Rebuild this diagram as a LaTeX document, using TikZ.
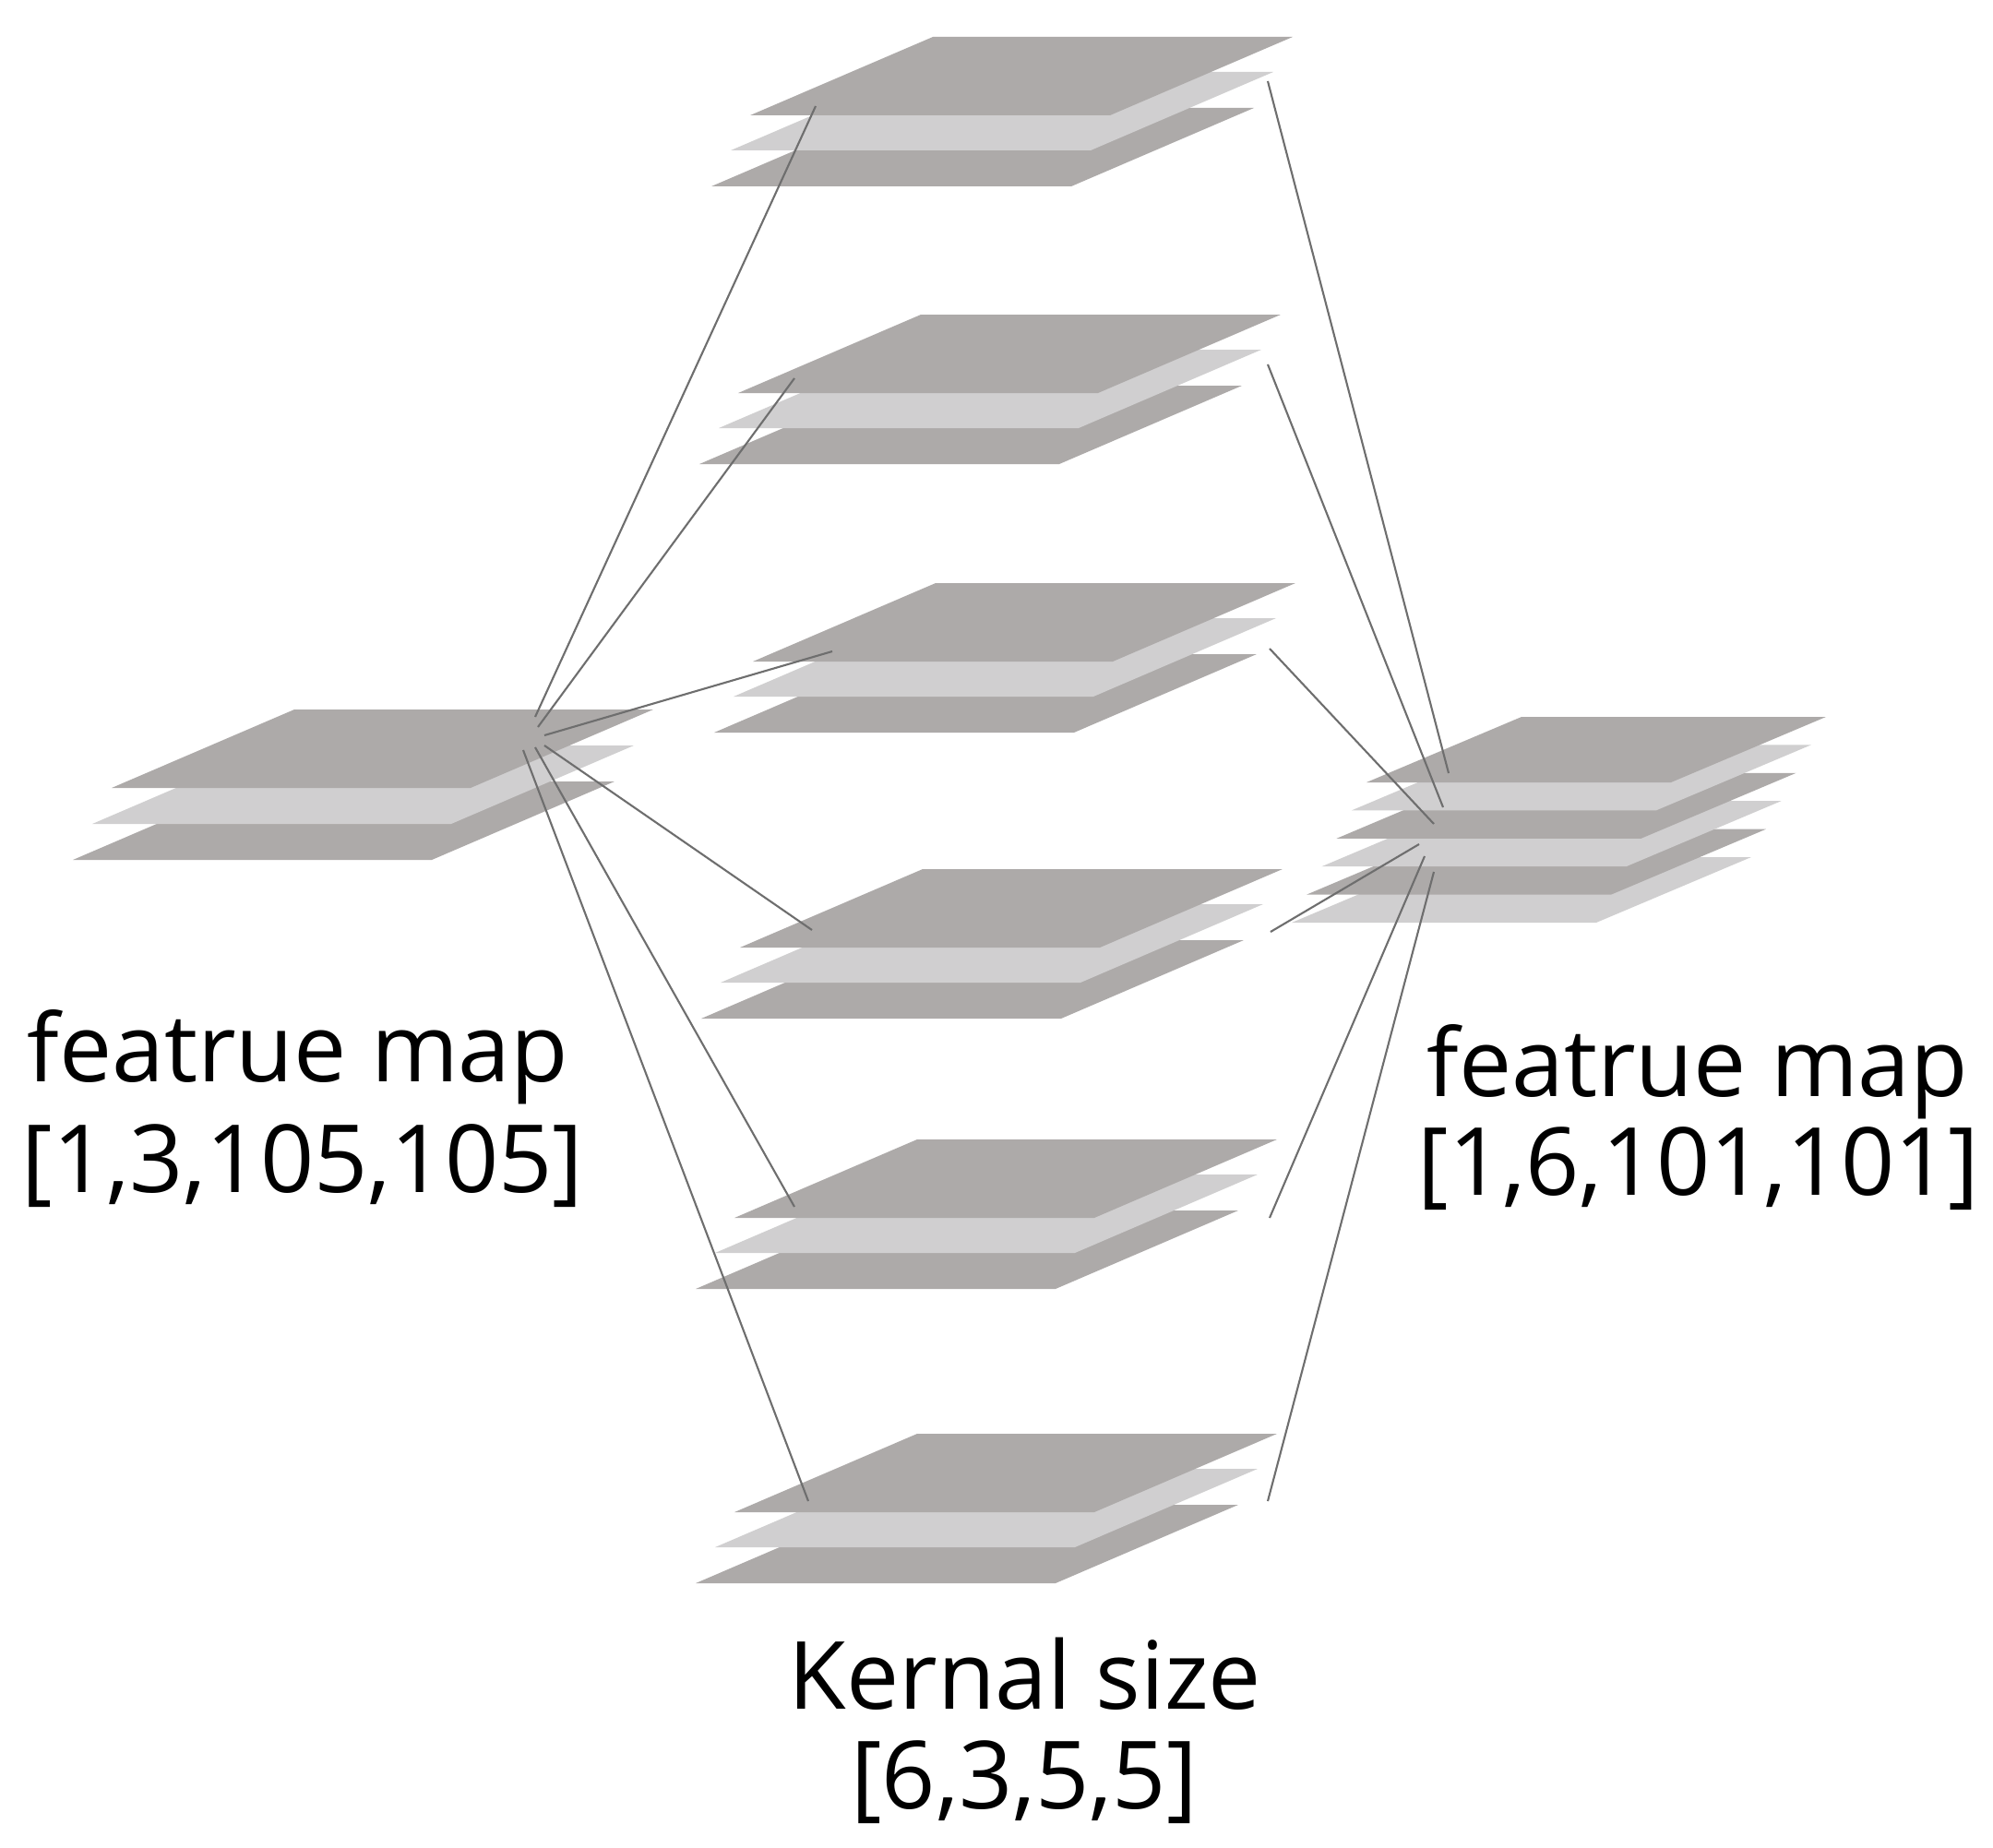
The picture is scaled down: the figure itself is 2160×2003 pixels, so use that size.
\documentclass[tikz,border=0pt]{standalone}
\usepackage{fontspec}
\setmainfont{Open Sans}
\definecolor{sheetdark}{RGB}{173,170,169}
\definecolor{sheetlight}{RGB}{208,207,208}
\definecolor{wiregray}{RGB}{110,110,110}
\begin{document}
\begin{tikzpicture}[x=0.01cm,y=-0.01cm,
  dark/.style={fill=sheetdark},
  light/.style={fill=sheetlight},
  wire/.style={draw=wiregray,line width=0.6pt},
  lbl/.style={anchor=base,inner sep=0pt,font=\fontsize{29}{35}\selectfont}]
\useasboundingbox (0,0) rectangle (2160,2003);
% input feature map
\fill[dark] (79,932) -- ++(389,0) -- ++(198,-85) -- ++(-389,0) -- cycle;
\fill[light] (100,893) -- ++(389,0) -- ++(198,-85) -- ++(-389,0) -- cycle;
\fill[dark] (121,854) -- ++(389,0) -- ++(198,-85) -- ++(-389,0) -- cycle;
% kernels
\foreach \bx/\by in {813/125,800/426,816/717,802/1027,796/1320,796/1639}{
  \fill[dark] (\bx-42,\by+77) -- ++(390,0) -- ++(198,-85) -- ++(-390,0) -- cycle;
  \fill[light] (\bx-21,\by+38) -- ++(390,0) -- ++(198,-85) -- ++(-390,0) -- cycle;
  \fill[dark] (\bx,\by) -- ++(390,0) -- ++(198,-85) -- ++(-390,0) -- cycle;
}
% output feature map
\foreach \i/\c in {5/light,4/dark,3/light,2/dark,1/light,0/dark}{
  \fill[\c] (1481-16.2*\i,848+30.4*\i) -- ++(330,0) -- ++(168,-71) -- ++(-330,0) -- cycle;
}
\coordinate (in1) at (580,777);
\coordinate (in2) at (583,788);
\coordinate (in3) at (590,797);
\coordinate (in4) at (590,808);
\coordinate (in5) at (580,810);
\coordinate (in6) at (567,813);
\coordinate (K1a) at (884,115);
\coordinate (K2a) at (861,410);
\coordinate (K3a) at (902,706);
\coordinate (K4a) at (880,1008);
\coordinate (K5a) at (861,1308);
\coordinate (K6a) at (876,1627);
\coordinate (K1b) at (1374,88);
\coordinate (K2b) at (1374,395);
\coordinate (K3b) at (1376,703);
\coordinate (K4b) at (1377,1010);
\coordinate (K5b) at (1376,1320);
\coordinate (K6b) at (1374,1627);
\coordinate (out1) at (1570,838);
\coordinate (out2) at (1564,875);
\coordinate (out3) at (1554,893);
\coordinate (out4) at (1538,915);
\coordinate (out5) at (1544,928);
\coordinate (out6) at (1554,945);
\draw[wire] (in1) -- (K1a);
\draw[wire] (in2) -- (K2a);
\draw[wire] (in3) -- (K3a);
\draw[wire] (in4) -- (K4a);
\draw[wire] (in5) -- (K5a);
\draw[wire] (in6) -- (K6a);
\draw[wire] (K1b) -- (out1);
\draw[wire] (K2b) -- (out2);
\draw[wire] (K3b) -- (out3);
\draw[wire] (K4b) -- (out4);
\draw[wire] (K5b) -- (out5);
\draw[wire] (K6b) -- (out6);
\node[lbl] (inName) at (323,1172) {featrue map};
\node[lbl] (inSize) at (328,1292) {[1,3,105,105]};
\node[lbl] (outName) at (1840,1188) {featrue map};
\node[lbl] (outSize) at (1841,1295) {[1,6,101,101]};
\node[lbl] (kerName) at (1111,1852) {Kernal size};
\node[lbl] (kerSize) at (1110,1960) {[6,3,5,5]};
\end{tikzpicture}
\end{document}
